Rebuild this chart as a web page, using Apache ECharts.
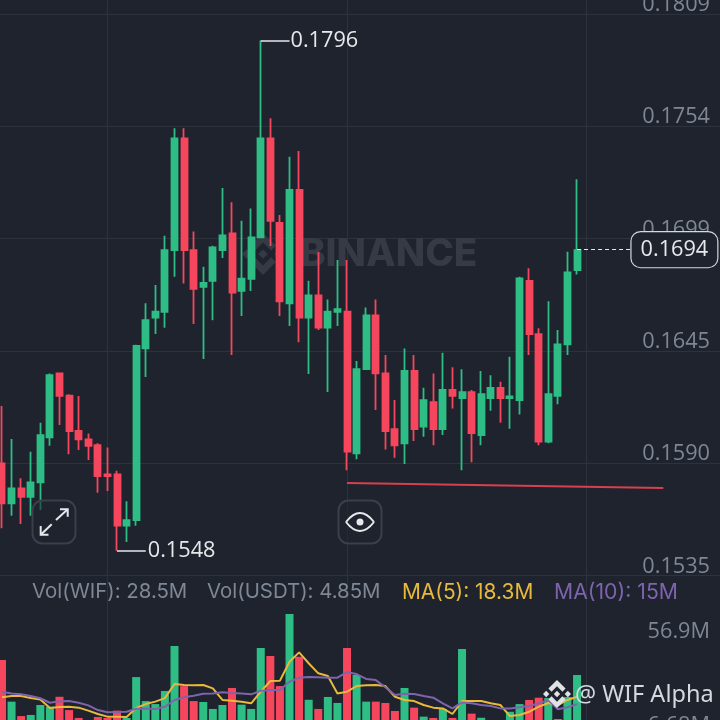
<!DOCTYPE html>
<html>
<head>
<meta charset="utf-8">
<style>html,body{margin:0;padding:0;background:#1e232d}#c{width:720px;height:720px}</style>
<script src="https://cdn.jsdelivr.net/npm/echarts@6/dist/echarts.min.js"></script>
</head>
<body>
<div id="c"></div>
<script>
const opens = [.15897,.15702,.15775,.15734,.15804,.16024,.16336,.16227,.16055,.16014,.15986,.15843,.15843,.15593,.1562,.16458,.16608,.16637,.16938,.17483,.16938,.16759,.16788,.16938,.17019,.16739,.16798,.17,.17483,.17071,.16678,.17231,.16608,.16717,.16559,.16637,.16637,.15946,.16357,.16619,.16336,.16064,.15995,.16348,.16076,.16196,.16064,.16255,.16216,.16245,.16035,.16216,.16265,.16216,.16206,.16788,.16528,.16003,.16226,.16478,.1684];
const closes = [.15702,.15775,.15734,.15804,.16035,.16328,.16226,.16055,.16014,.15983,.15835,.15835,.15593,.1562,.1647,.16596,.16637,.16938,.17483,.16938,.16749,.16778,.16951,.1701,.1673,.16798,.17,.17483,.17081,.16688,.17231,.16608,.16717,.16559,.16637,.16649,.15954,.16357,.16619,.16336,.16055,.15985,.16348,.16064,.16206,.16064,.16255,.16226,.16245,.16045,.16235,.16265,.16216,.16224,.168,.16528,.16003,.16235,.16478,.16829,.16938];
const lows = [.15581,.15641,.15601,.15641,.15669,.15983,.16084,.15942,.15962,.15913,.15754,.15762,.15471,.15513,.15593,.16318,.16528,.16559,.16808,.16775,.16577,.16406,.16596,.16899,.16426,.16616,.16738,.17,.16958,.16616,.16567,.16488,.16333,.16548,.16245,.16567,.15864,.15917,.16357,.16157,.15965,.15924,.15894,.16006,.16027,.15985,.16035,.16165,.15864,.15903,.15985,.16154,.16095,.16066,.16136,.16426,.15985,.15995,.16186,.16426,.16819];
const highs = [.16177,.16016,.15824,.15954,.16095,.16336,.16336,.16234,.16226,.16043,.15995,.15975,.15861,.15712,.16476,.16678,.16767,.17008,.17532,.17532,.17029,.16857,.16959,.17241,.17171,.17081,.17141,.1796,.17581,.17109,.17393,.17421,.16788,.1693,.16697,.16889,.16889,.16396,.16658,.16697,.16426,.16206,.16458,.16426,.16266,.16336,.16437,.16366,.16356,.16255,.16348,.16327,.16295,.16417,.16808,.16849,.16556,.16688,.16548,.1693,.17283];
const volumes = [46.4,24.2,16.5,17.1,22.4,21.5,26.8,19.7,15.5,13.3,16,15.5,19.4,15.5,37.3,24.5,22.9,29.9,53.9,32.5,24.5,24,20.3,22.4,31.5,22.6,20.3,52.8,48.5,32.5,71,48.2,25.2,20.3,26.7,23.5,52.8,38.4,24.2,24.2,23.5,19.2,31.5,21,16.2,15.5,20.3,15.5,52.3,17.8,15.6,12.8,13.3,18.8,22.9,25.1,26.3,26.1,14.9,26.7,38.4];
const ma5 = [26.5,27.2,27.2,26.1,25.4,20.8,21.3,21.5,21,19.4,17.6,16.2,16.2,16,20.8,22.9,24.2,26.1,33.6,33.1,32.9,33.1,31.3,25.1,24.7,24.2,23.3,29.5,35.2,35.4,45.5,50.5,44.7,39.3,37.9,28.6,29.5,32.5,32.9,33.1,32.5,26.8,25.1,24.5,22.4,21,20.6,17.6,24.5,24.5,24.5,23.3,22.4,16.5,17.1,18.8,21.5,23.5,22.4,25.1,26.8];
const ma10 = [29.5,28.6,28.1,27.2,26,23.6,24.4,24.5,23.6,22.2,19.7,18.5,18.7,18.8,20.4,20.6,20.3,21.5,25.1,26.5,27.4,28.4,28.6,29.2,28.8,28.6,28.1,30,30.4,30.4,34.8,37,37.3,37.2,37,37,39.9,38.9,36.3,35.7,31.9,27.7,28.4,28.3,27.2,26.3,23.3,20.6,23.8,23.3,22.4,21.9,20.6,20.6,21.2,21.9,23.3,25.1,20.1,21.2,22.9];
const priceTicks = [0.1535,0.15898,0.16446,0.16994,0.17542,0.1809];
const volTicks = [6.68,56.9];
const legendTexts = ["Vol(WIF): 28.5M","Vol(USDT): 4.85M","MA(5): 18.3M","MA(10): 15M"];
const categories = []; for (let k = 1; k <= 76; k++) categories.push(String(k));

const BG='#1e232d', GRID='#2d323c', GREEN='#2ebd85', RED='#f6465d', AXIS='#7f8795', WHITE='#e6e8ec';
const FONT='Inter', NUMFONT='Open Sans', NUMSIZE=21.7;
const BNB_PARTS=[
 [[16.62,13.92],[19.34,16.635],[11.99,23.99],[4.635,16.637],[7.35,13.92],[11.99,18.58]],
 [[21.26,9.284],[24,12],[21.285,14.716],[18.568,12]],
 [[11.99,9.285],[14.7,12],[11.99,14.7],[9.27,12]],
 [[2.716,9.284],[5.41,12],[2.717,14.69],[0,12]],
 [[11.99,0.01],[19.34,7.34],[16.62,10.056],[11.99,5.42],[7.35,10.08],[4.635,7.364]]];
function logo(x,y,size,fill,z){return BNB_PARTS.map(p=>({type:'polygon',z:z,silent:true,shape:{points:p.map(q=>[x+q[0]*size/24,y+q[1]*size/24])},style:{fill:fill}}));}
const candleData = opens.map((o,i)=>[o,closes[i],lows[i],highs[i]]);
const volData = volumes.map((v,i)=>({value:v,itemStyle:{color:closes[i]>=opens[i]?GREEN:RED}}));
function xAxisOf(g){return {type:'category',gridIndex:g,data:categories,boundaryGap:true,
  axisLine:{show:false},axisTick:{show:false},axisLabel:{show:false},
  splitLine:{show:true,alignWithLabel:true,interval:(i)=>i%25===11,lineStyle:{color:GRID,width:1}}};}
const option = {
  backgroundColor:BG, animation:false,
  grid:[{left:-2.8,right:-5.6,top:0,height:575.5,outerBoundsMode:'none'},{left:-2.8,right:-5.6,top:575.5,height:171.5,outerBoundsMode:'none'}],
  xAxis:[xAxisOf(0),xAxisOf(1)],
  yAxis:[{type:'value',gridIndex:0,position:'right',min:0.1535,max:0.18158,scale:true,
      axisLine:{show:false},
      axisTick:{show:false,customValues:priceTicks},
      splitLine:{show:true,lineStyle:{color:GRID,width:1}},
      axisLabel:{inside:true,customValues:priceTicks,margin:15.6,align:'right',verticalAlign:'bottom',lineHeight:18,color:AXIS,fontFamily:NUMFONT,fontSize:NUMSIZE,formatter:(v)=>v.toFixed(4)}},
    {type:'value',gridIndex:1,position:'right',min:0,max:91.5,
      axisLine:{show:false},axisTick:{show:false,customValues:volTicks},splitLine:{show:false},
      axisLabel:{inside:true,customValues:volTicks,margin:15.6,align:'right',verticalAlign:'bottom',lineHeight:18,color:AXIS,fontFamily:NUMFONT,fontSize:NUMSIZE,formatter:(v)=>v+'M'}}],
  series:[
    {type:'candlestick',xAxisIndex:0,yAxisIndex:0,data:candleData,barWidth:6.5,z:3,
     itemStyle:{color:GREEN,color0:RED,borderColor:GREEN,borderColor0:RED,borderWidth:1.8},
     markLine:{silent:true,symbol:'none',animation:false,data:[
       [{coord:[27,0.1796],lineStyle:{color:WHITE,width:1.5,type:'solid'},label:{show:true,position:'end',distance:1,padding:[2,0,0,0],formatter:'0.1796',color:WHITE,fontFamily:NUMFONT,fontSize:NUMSIZE}},{coord:[30,0.1796]}],
       [{coord:[12,lows[12]],lineStyle:{color:WHITE,width:1.5,type:'solid'},label:{show:true,position:'end',distance:2,padding:[2,0,0,0],formatter:'0.1548',color:WHITE,fontFamily:NUMFONT,fontSize:NUMSIZE}},{coord:[15,lows[12]]}],
       [{coord:[36,0.15801],lineStyle:{color:'#d8404f',width:2,type:'solid'},label:{show:false}},{coord:[69,0.15777]}],
       [{coord:[60,0.1694],lineStyle:{color:WHITE,width:1.2,type:[4,3]},label:{show:true,position:'end',distance:-3,formatter:'0.1694',color:WHITE,fontFamily:NUMFONT,fontSize:NUMSIZE,backgroundColor:BG,borderColor:'#d5d8de',borderWidth:1.2,borderRadius:9,padding:[8,9,5,9]}},{coord:[66,0.1694]}]
     ]}},
    {type:'bar',xAxisIndex:1,yAxisIndex:1,data:volData,barWidth:8,z:2},
    {type:'line',xAxisIndex:1,yAxisIndex:1,data:ma5,symbol:'none',z:3,lineStyle:{color:'#e8b93a',width:2}},
    {type:'line',xAxisIndex:1,yAxisIndex:1,data:ma10,symbol:'none',z:3,lineStyle:{color:'#7d64ad',width:2}}
  ],
  graphic:{elements:[
    {type:'text',z:1,x:300,y:235,silent:true,style:{text:'BINANCE',fill:'#353a45',fontFamily:'Inter',fontWeight:800,fontSize:38.5}},
    ...logo(242,233,42,'#353a45',1),
    {type:'text',z:50,x:32,y:582,silent:true,style:{text:legendTexts[0],fill:AXIS,fontFamily:FONT,fontSize:20.4}},
    {type:'text',z:50,x:207,y:582,silent:true,style:{text:legendTexts[1],fill:AXIS,fontFamily:FONT,fontSize:20.4}},
    {type:'text',z:50,x:402,y:582,silent:true,style:{text:legendTexts[2],fill:'#e8b93a',fontFamily:FONT,fontSize:20.9}},
    {type:'text',z:50,x:554,y:582,silent:true,style:{text:legendTexts[3],fill:'#7d64ad',fontFamily:FONT,fontSize:21.2}},
    {type:'text',z:50,x:575,y:683,silent:true,style:{text:'@ WIF Alpha',fill:'#d5d8de',fontFamily:'Noto Sans',fontSize:23.5}},
    ...logo(543,680,28,'#e0e2e6',50),
    {type:'rect',z:50,silent:true,shape:{x:32.5,y:500.5,width:43,height:43,r:10},style:{fill:'rgba(30,35,45,0.6)',stroke:'#3a3f49',lineWidth:2}},
    {type:'rect',z:50,silent:true,shape:{x:338.5,y:500.5,width:43,height:43,r:10},style:{fill:'rgba(30,35,45,0.6)',stroke:'#3a3f49',lineWidth:2}},
    {type:'polyline',z:51,silent:true,shape:{points:[[56,520],[67.7,509.3]]},style:{stroke:WHITE,lineWidth:2,fill:null}},
    {type:'polyline',z:51,silent:true,shape:{points:[[60,509.3],[67.7,509.3],[67.7,516.7]]},style:{stroke:WHITE,lineWidth:2,fill:null}},
    {type:'polyline',z:51,silent:true,shape:{points:[[51.7,524.3],[40.7,534.7]]},style:{stroke:WHITE,lineWidth:2,fill:null}},
    {type:'polyline',z:51,silent:true,shape:{points:[[40.7,526],[40.7,534.7],[48.5,534.7]]},style:{stroke:WHITE,lineWidth:2,fill:null}},
    {type:'bezierCurve',z:51,silent:true,shape:{x1:346,y1:522,x2:374,y2:522,cpx1:360,cpy1:504},style:{stroke:WHITE,lineWidth:2,fill:null}},
    {type:'bezierCurve',z:51,silent:true,shape:{x1:346,y1:522,x2:374,y2:522,cpx1:360,cpy1:540},style:{stroke:WHITE,lineWidth:2,fill:null}},
    {type:'circle',z:51,silent:true,shape:{cx:360,cy:522,r:3.5},style:{fill:WHITE}}
  ]}
};
echarts.init(document.getElementById('c')).setOption(option);
</script>
</body>
</html>
